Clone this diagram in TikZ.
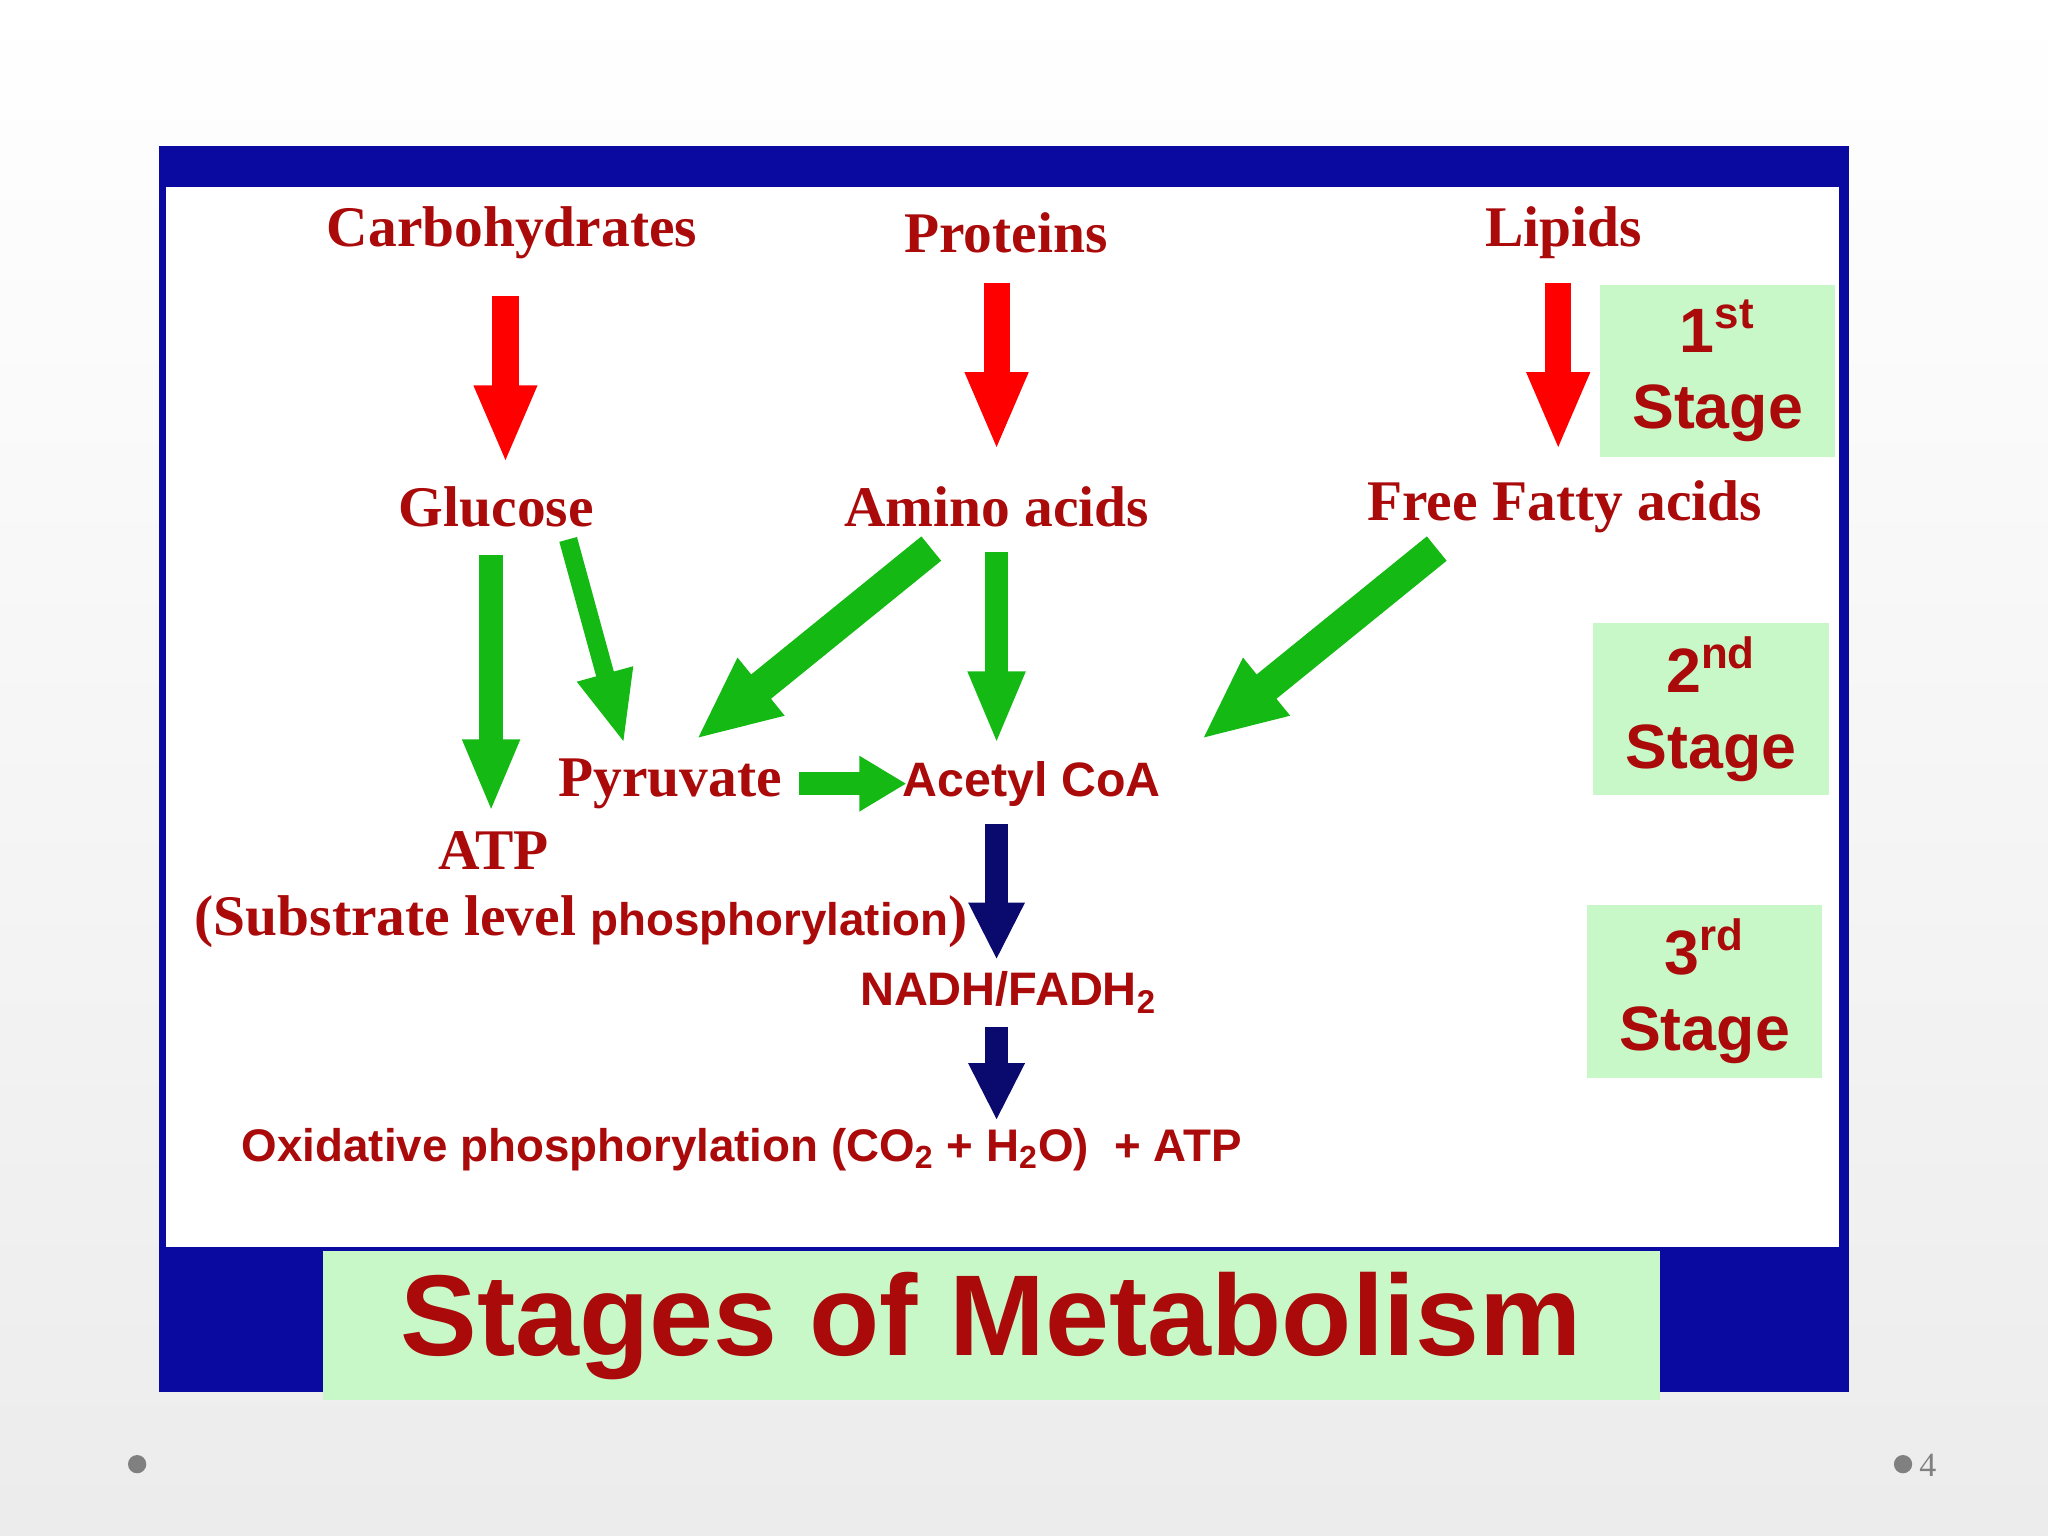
\documentclass[tikz,border=0pt]{standalone}
\usepackage{fontspec}
\setmainfont{Liberation Serif}
\newfontfamily\arialf{Liberation Sans}
\usetikzlibrary{arrows.meta}
\definecolor{dred}{RGB}{170,10,10}
\definecolor{lgreen}{RGB}{200,248,200}
\definecolor{agreen}{RGB}{20,185,20}
\definecolor{navy}{RGB}{10,10,110}
\definecolor{fblue}{RGB}{10,10,160}
\tikzset{
 lab/.style={text=dred,font=\bfseries\fontsize{22}{25}\selectfont,inner sep=1pt},
 slab/.style={text=dred,font=\arialf\bfseries\fontsize{17.5}{20}\selectfont,inner sep=1pt},
 stagebox/.style={fill=lgreen,text=dred,font=\arialf\bfseries\fontsize{24}{29}\selectfont,align=center},
 redarr/.style={draw=red,line width=10pt,-{Triangle[length=30pt,width=22pt]},red},
 grarr/.style={draw=agreen,line width=9pt,-{Triangle[length=28pt,width=20pt]},agreen},
 widearr/.style={draw=agreen,line width=12pt,-{Triangle[length=32pt,width=26pt]},agreen},
 navarr/.style={draw=navy,line width=9pt,-{Triangle[length=22pt,width=20pt]},navy},
}
\begin{document}
\begin{tikzpicture}[x=0.5pt,y=-0.5pt]
\useasboundingbox (0,0) rectangle (1568,1176);
\shade[top color=white,bottom color=gray!15] (0,0) rectangle (1568,1176);
\fill[fblue] (122,112) rectangle (1416,1066);
\fill[white] (127,143) rectangle (1408,955);
\node[fill=lgreen,minimum width=512pt,minimum height=57pt,text=dred,font=\arialf\bfseries\fontsize{44}{52}\selectfont] (title) at (759,1015) {Stages of Metabolism};
\node[stagebox,minimum width=90pt,minimum height=66pt] (s1) at (1315,284) {1\textsuperscript{st}\\Stage};
\node[stagebox,minimum width=90pt,minimum height=66pt] (s2) at (1310,543) {2\textsuperscript{nd}\\Stage};
\node[stagebox,minimum width=90pt,minimum height=66pt] (s3) at (1305,759) {3\textsuperscript{rd}\\Stage};
\node[lab] (carb) at (392,178) {Carbohydrates};
\node[lab] (prot) at (770,178) {Proteins};
\node[lab] (lip) at (1197,178) {Lipids};
\node[lab] (glu) at (380,388) {Glucose};
\node[lab] (amino) at (763,388) {Amino acids};
\node[lab] (ffa) at (1198,388) {Free Fatty acids};
\node[lab] (pyr) at (513,600) {Pyruvate};
\node[slab,font=\arialf\bfseries\fontsize{18.5}{21}\selectfont] (acoa) at (790,600) {Acetyl CoA};
\node[lab] (atp) at (378,651) {ATP};
\node[lab] (sub) at (445,706) {(Substrate level {\arialf\fontsize{17.5}{20}\selectfont phosphorylation})};
\node[slab,font=\arialf\bfseries\fontsize{18}{21}\selectfont] (nadh) at (772,760) {NADH/FADH\textsubscript{2}};
\node[slab] (ox) at (568,880) {Oxidative phosphorylation (CO\textsubscript{2} + H\textsubscript{2}O)\ \ + ATP};
\coordinate (a1) at (387,227); \coordinate (b1) at (387,355);
\coordinate (a2) at (763,217); \coordinate (b2) at (763,345);
\coordinate (a3) at (1193,217); \coordinate (b3) at (1193,345);
\draw[redarr] (a1) -- (b1);
\draw[redarr] (a2) -- (b2);
\draw[redarr] (a3) -- (b3);
\coordinate (g1) at (376,425); \coordinate (g2) at (376,622);
\coordinate (g3) at (435,413); \coordinate (g4) at (478,570);
\coordinate (g5) at (713,420); \coordinate (g6) at (533,566);
\coordinate (g7) at (763,423); \coordinate (g8) at (763,570);
\coordinate (g9) at (1100,420); \coordinate (g10) at (920,566);
\coordinate (g11) at (612,600); \coordinate (g12) at (694,600);
\draw[grarr] (g1) -- (g2);
\draw[grarr,line width=7pt] (g3) -- (g4);
\draw[widearr] (g5) -- (g6);
\draw[grarr] (g7) -- (g8);
\draw[widearr] (g9) -- (g10);
\draw[grarr,-{Triangle[length=18pt,width=20pt]}] (g11) -- (g12);
\coordinate (n1) at (763,631); \coordinate (n2) at (763,735);
\coordinate (n3) at (763,786); \coordinate (n4) at (763,858);
\draw[navarr] (n1) -- (n2);
\draw[navarr] (n3) -- (n4);
\fill[gray] (105,1121) circle (7);
\fill[gray] (1457,1121) circle (7);
\node[text=gray,font=\fontsize{13}{15}\selectfont] (pg) at (1476,1122) {4};
\end{tikzpicture}
\end{document}
